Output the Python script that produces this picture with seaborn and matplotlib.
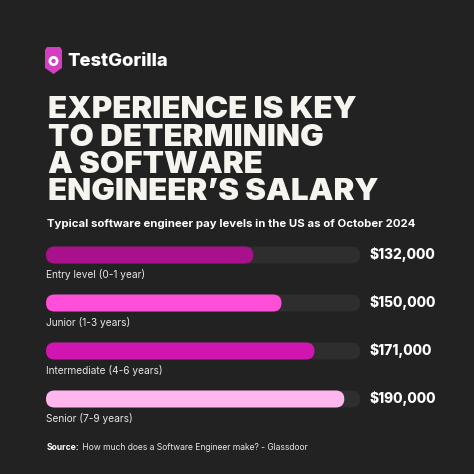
import matplotlib
matplotlib.use("Agg")
import matplotlib.pyplot as plt
import seaborn as sns
from matplotlib.patches import FancyBboxPatch, Polygon, Circle

# data
levels = ["Entry level (0-1 year)", "Junior (1-3 years)",
          "Intermediate (4-6 years)", "Senior (7-9 years)"]
salaries = [132000, 150000, 171000, 190000]
salary_labels = ["$132,000", "$150,000", "$171,000", "$190,000"]
bar_colors = ["#a8118b", "#ff4fd9", "#d015b0", "#ffb6ef"]
track_max = 200000

title_lines = ["EXPERIENCE IS KEY", "TO DETERMINING", "A SOFTWARE",
               "ENGINEER\u2019S SALARY"]
subtitle = "Typical software engineer pay levels in the US as of October 2024"

BG = "#222222"
TRACK = "#2e2e2e"
W = 474

sns.set_style("dark")
plt.rcParams["font.family"] = ["Inter", "DejaVu Sans"]

fig = plt.figure(figsize=(4.74, 4.74), dpi=100, facecolor=BG)


def fx(px):
    return px / W


def fy(py):
    return 1 - py / W


# bar axes: category pitch 48 px, first bar centre at y=255 px
ax = fig.add_axes([fx(46), fy(423), fx(314), 192 / W])
ax.set_facecolor(BG)

sns.barplot(x=[track_max] * len(levels), y=levels, color=TRACK,
            orient="h", width=0.354, ax=ax, saturation=1)
sns.barplot(x=salaries, y=levels, hue=levels, palette=bar_colors,
            orient="h", width=0.354, ax=ax, legend=False, saturation=1)

# turn the rectangles into pills
asp = (1 / 48) / (track_max / 314)
for p in list(ax.patches):
    x, y = p.get_x(), p.get_y()
    w, h = p.get_width(), p.get_height()
    r = h / 2 / asp
    pill = FancyBboxPatch((x, y), w, h,
                          boxstyle=f"round,pad=0,rounding_size={r}",
                          mutation_aspect=asp, fc=p.get_facecolor(),
                          ec="none")
    p.remove()
    ax.add_patch(pill)

ax.set_xlim(0, track_max)
ax.set_ylim(len(levels) - 0.5, -0.5)
ax.axis("off")

for i, (lab, val) in enumerate(zip(levels, salary_labels)):
    ax.text(0, i + 0.4, lab, color="#e6e6e6", fontsize=7.3,
            va="center", ha="left")
    ax.annotate(val, xy=(track_max, i), xytext=(7, 0),
                textcoords="offset points", color="white", fontsize=9.9,
                fontweight="heavy", va="center", ha="left")

# logo
shield = Polygon([[fx(45), fy(50)], [fx(47), fy(47)], [fx(60), fy(47)],
                  [fx(62), fy(50)], [fx(62), fy(68)], [fx(53.5), fy(74)],
                  [fx(45), fy(68)]],
                 closed=True, fc="#d43fc2", ec="none",
                 transform=fig.transFigure)
fig.patches.append(shield)
fig.patches.append(Circle((fx(53.5), fy(61)), 5 / W, fc="white", ec="none",
                          transform=fig.transFigure))
fig.patches.append(Circle((fx(53.5), fy(61)), 2.2 / W, fc="#d43fc2",
                          ec="none", transform=fig.transFigure))
fig.text(fx(67), fy(62), "TestGorilla", color="white", fontsize=13.3,
         fontweight="heavy", va="center", ha="left")

# title
for k, line in enumerate(title_lines):
    fig.text(fx(48), fy(118 + 27.5 * k), line, color="#f6f4ef",
             fontsize=22.5, fontweight="black", va="baseline", ha="left")

fig.text(fx(47), fy(224), subtitle, color="white", fontsize=8.2,
         fontweight="bold", va="center", ha="left")

src = fig.text(fx(47), fy(448), "Source:", color="white", fontsize=6.15,
               fontweight="bold", va="center", ha="left")
ax.annotate(" How much does a Software Engineer make? - Glassdoor",
            xy=(1, 0), xycoords=src, va="bottom", ha="left",
            color="#e6e6e6", fontsize=6.15, annotation_clip=False)

fig.savefig("out.png", dpi=100, facecolor=BG)
